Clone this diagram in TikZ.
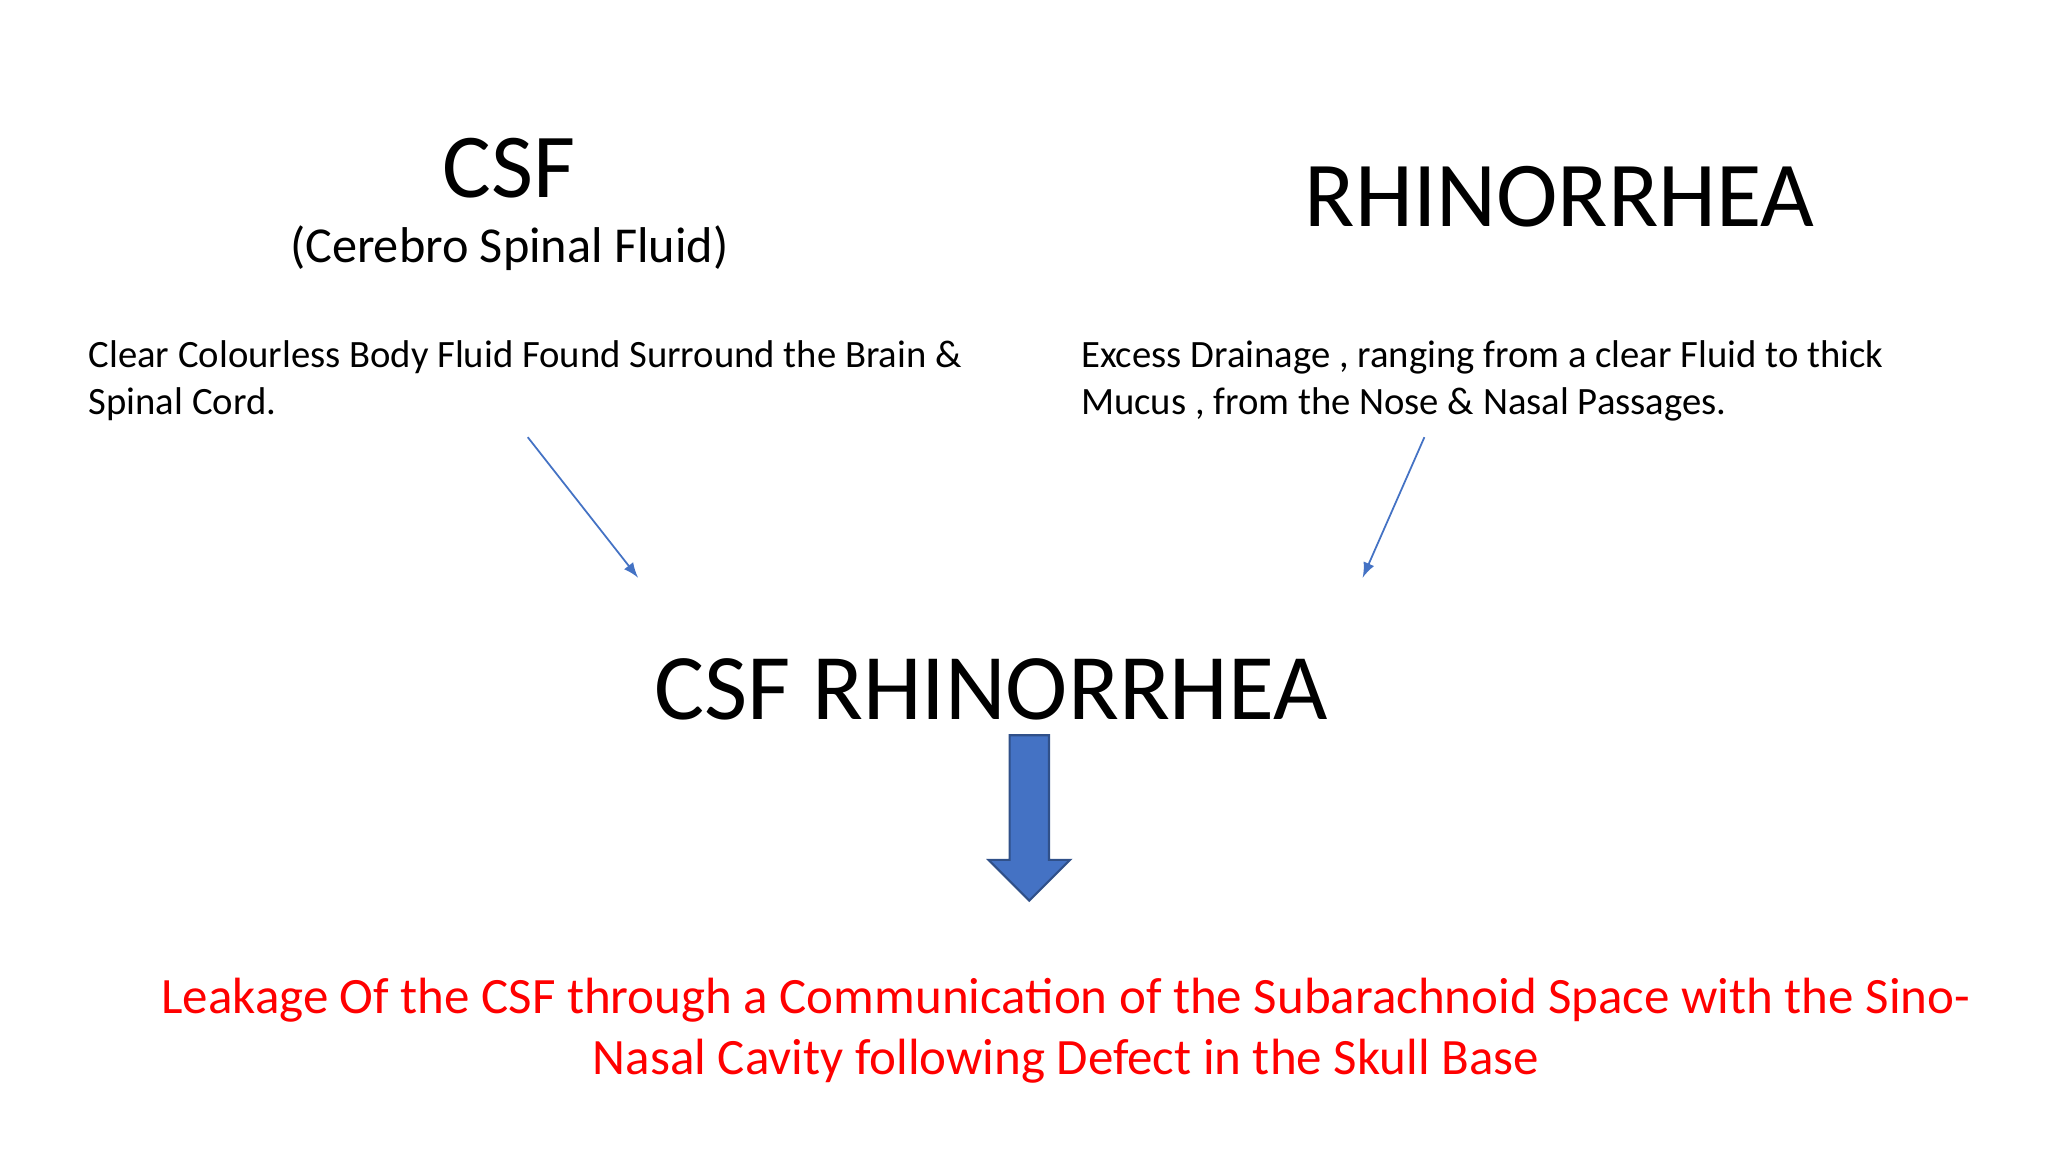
\documentclass[tikz,border=0pt]{standalone}
\usepackage{fontspec}
\setmainfont{Carlito}
\usetikzlibrary{positioning}
\definecolor{arrblue}{RGB}{68,114,196}
\definecolor{leakred}{RGB}{255,0,0}
\tikzset{
  bodytxt/.style={anchor=base west, align=left, font=\fontsize{11}{13.5}\selectfont, inner sep=0pt},
  thinarr/.style={arrblue, line width=0.5pt, -latex},
}
\begin{document}
\begin{tikzpicture}[x=0.013128cm, y=-0.013128cm]
\useasboundingbox (0,0) rectangle (1560,877.5);
\fill[white] (0,0) rectangle (1560,877.5);
% headings
\node[font=\fontsize{26}{30}\selectfont] (csf) at (388,128) {CSF};
\node[font=\fontsize{14.3}{17}\selectfont] (csfsub) at (388,189) {(Cerebro Spinal Fluid)};
\node[font=\fontsize{26.4}{30}\selectfont] (rhino) at (1188,150) {RHINORRHEA};
% descriptions
\node[bodytxt] (csftxt) at (67,316) {Clear Colourless Body Fluid Found Surround the Brain \&\\Spinal Cord.};
\node[bodytxt] (rhinotxt) at (823,316) {Excess Drainage , ranging from a clear Fluid to thick\\Mucus , from the Nose \& Nasal Passages.};
% result
\node[font=\fontsize{26.7}{30}\selectfont] (both) at (755,525) {CSF RHINORRHEA};
\node[align=center, text=leakred, font=\fontsize{14.5}{17.5}\selectfont] (leak) at (812,785)
  {Leakage Of the CSF through a Communication of the Subarachnoid Space with the Sino-\\Nasal Cavity following Defect in the Skull Base};
% arrows
\coordinate (la) at (402,333);
\coordinate (lb) at (486,440);
\coordinate (ra) at (1085,333);
\coordinate (rb) at (1038,440);
\draw[thinarr] (la) -- (lb);
\draw[thinarr] (ra) -- (rb);
\draw[fill=arrblue, draw=arrblue!70!black, line width=0.6pt]
  (769,560) -- (799,560) -- (799,655) -- (815,655) -- (784,686) -- (753,655) -- (769,655) -- cycle;
\end{tikzpicture}
\end{document}
